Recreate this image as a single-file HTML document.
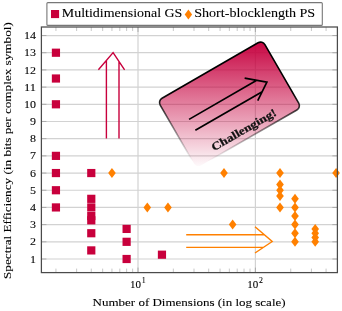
<!DOCTYPE html>
<html><head><meta charset="utf-8"><title>Spectral Efficiency chart</title>
<style>html,body{margin:0;padding:0;background:#fff;}svg{display:block;}</style>
</head><body>
<svg width="342" height="311" viewBox="0 0 342 311">
<defs>
<linearGradient id="pinkg" gradientUnits="userSpaceOnUse" x1="0" y1="38.6" x2="0" y2="169">
<stop offset="0" stop-color="rgb(198,0,62)" stop-opacity="1"/>
<stop offset="1" stop-color="rgb(198,0,62)" stop-opacity="0"/>
</linearGradient>
<linearGradient id="borderg" gradientUnits="userSpaceOnUse" x1="0" y1="92" x2="0" y2="161">
<stop offset="0" stop-color="#000" stop-opacity="1"/>
<stop offset="1" stop-color="#000" stop-opacity="0"/>
</linearGradient>
</defs>
<rect width="342" height="311" fill="#fff"/>
<line x1="41.4" y1="259.00" x2="337.4" y2="259.00" stroke="#d2d2d2" stroke-width="1.2"/>
<line x1="41.4" y1="241.81" x2="337.4" y2="241.81" stroke="#d2d2d2" stroke-width="1.2"/>
<line x1="41.4" y1="224.62" x2="337.4" y2="224.62" stroke="#d2d2d2" stroke-width="1.2"/>
<line x1="41.4" y1="207.43" x2="337.4" y2="207.43" stroke="#d2d2d2" stroke-width="1.2"/>
<line x1="41.4" y1="190.24" x2="337.4" y2="190.24" stroke="#d2d2d2" stroke-width="1.2"/>
<line x1="41.4" y1="173.05" x2="337.4" y2="173.05" stroke="#d2d2d2" stroke-width="1.2"/>
<line x1="41.4" y1="155.86" x2="337.4" y2="155.86" stroke="#d2d2d2" stroke-width="1.2"/>
<line x1="41.4" y1="138.67" x2="337.4" y2="138.67" stroke="#d2d2d2" stroke-width="1.2"/>
<line x1="41.4" y1="121.48" x2="337.4" y2="121.48" stroke="#d2d2d2" stroke-width="1.2"/>
<line x1="41.4" y1="104.29" x2="337.4" y2="104.29" stroke="#d2d2d2" stroke-width="1.2"/>
<line x1="41.4" y1="87.10" x2="337.4" y2="87.10" stroke="#d2d2d2" stroke-width="1.2"/>
<line x1="41.4" y1="69.91" x2="337.4" y2="69.91" stroke="#d2d2d2" stroke-width="1.2"/>
<line x1="41.4" y1="52.72" x2="337.4" y2="52.72" stroke="#d2d2d2" stroke-width="1.2"/>
<line x1="41.4" y1="35.53" x2="337.4" y2="35.53" stroke="#d2d2d2" stroke-width="1.2"/>
<line x1="138.00" y1="27.0" x2="138.00" y2="272.6" stroke="#d2d2d2" stroke-width="1.2"/>
<line x1="255.40" y1="27.0" x2="255.40" y2="272.6" stroke="#d2d2d2" stroke-width="1.2"/>
<line x1="55.94" y1="272.6" x2="55.94" y2="268.60" stroke="#b0b0b0" stroke-width="0.7"/>
<line x1="55.94" y1="27.0" x2="55.94" y2="31.00" stroke="#b0b0b0" stroke-width="0.7"/>
<line x1="76.61" y1="272.6" x2="76.61" y2="268.60" stroke="#b0b0b0" stroke-width="0.7"/>
<line x1="76.61" y1="27.0" x2="76.61" y2="31.00" stroke="#b0b0b0" stroke-width="0.7"/>
<line x1="91.28" y1="272.6" x2="91.28" y2="268.60" stroke="#b0b0b0" stroke-width="0.7"/>
<line x1="91.28" y1="27.0" x2="91.28" y2="31.00" stroke="#b0b0b0" stroke-width="0.7"/>
<line x1="102.66" y1="272.6" x2="102.66" y2="268.60" stroke="#b0b0b0" stroke-width="0.7"/>
<line x1="102.66" y1="27.0" x2="102.66" y2="31.00" stroke="#b0b0b0" stroke-width="0.7"/>
<line x1="111.95" y1="272.6" x2="111.95" y2="268.60" stroke="#b0b0b0" stroke-width="0.7"/>
<line x1="111.95" y1="27.0" x2="111.95" y2="31.00" stroke="#b0b0b0" stroke-width="0.7"/>
<line x1="119.81" y1="272.6" x2="119.81" y2="268.60" stroke="#b0b0b0" stroke-width="0.7"/>
<line x1="119.81" y1="27.0" x2="119.81" y2="31.00" stroke="#b0b0b0" stroke-width="0.7"/>
<line x1="126.62" y1="272.6" x2="126.62" y2="268.60" stroke="#b0b0b0" stroke-width="0.7"/>
<line x1="126.62" y1="27.0" x2="126.62" y2="31.00" stroke="#b0b0b0" stroke-width="0.7"/>
<line x1="132.63" y1="272.6" x2="132.63" y2="268.60" stroke="#b0b0b0" stroke-width="0.7"/>
<line x1="132.63" y1="27.0" x2="132.63" y2="31.00" stroke="#b0b0b0" stroke-width="0.7"/>
<line x1="173.34" y1="272.6" x2="173.34" y2="268.60" stroke="#b0b0b0" stroke-width="0.7"/>
<line x1="173.34" y1="27.0" x2="173.34" y2="31.00" stroke="#b0b0b0" stroke-width="0.7"/>
<line x1="194.01" y1="272.6" x2="194.01" y2="268.60" stroke="#b0b0b0" stroke-width="0.7"/>
<line x1="194.01" y1="27.0" x2="194.01" y2="31.00" stroke="#b0b0b0" stroke-width="0.7"/>
<line x1="208.68" y1="272.6" x2="208.68" y2="268.60" stroke="#b0b0b0" stroke-width="0.7"/>
<line x1="208.68" y1="27.0" x2="208.68" y2="31.00" stroke="#b0b0b0" stroke-width="0.7"/>
<line x1="220.06" y1="272.6" x2="220.06" y2="268.60" stroke="#b0b0b0" stroke-width="0.7"/>
<line x1="220.06" y1="27.0" x2="220.06" y2="31.00" stroke="#b0b0b0" stroke-width="0.7"/>
<line x1="229.35" y1="272.6" x2="229.35" y2="268.60" stroke="#b0b0b0" stroke-width="0.7"/>
<line x1="229.35" y1="27.0" x2="229.35" y2="31.00" stroke="#b0b0b0" stroke-width="0.7"/>
<line x1="237.21" y1="272.6" x2="237.21" y2="268.60" stroke="#b0b0b0" stroke-width="0.7"/>
<line x1="237.21" y1="27.0" x2="237.21" y2="31.00" stroke="#b0b0b0" stroke-width="0.7"/>
<line x1="244.02" y1="272.6" x2="244.02" y2="268.60" stroke="#b0b0b0" stroke-width="0.7"/>
<line x1="244.02" y1="27.0" x2="244.02" y2="31.00" stroke="#b0b0b0" stroke-width="0.7"/>
<line x1="250.03" y1="272.6" x2="250.03" y2="268.60" stroke="#b0b0b0" stroke-width="0.7"/>
<line x1="250.03" y1="27.0" x2="250.03" y2="31.00" stroke="#b0b0b0" stroke-width="0.7"/>
<line x1="290.74" y1="272.6" x2="290.74" y2="268.60" stroke="#b0b0b0" stroke-width="0.7"/>
<line x1="290.74" y1="27.0" x2="290.74" y2="31.00" stroke="#b0b0b0" stroke-width="0.7"/>
<line x1="311.41" y1="272.6" x2="311.41" y2="268.60" stroke="#b0b0b0" stroke-width="0.7"/>
<line x1="311.41" y1="27.0" x2="311.41" y2="31.00" stroke="#b0b0b0" stroke-width="0.7"/>
<line x1="326.08" y1="272.6" x2="326.08" y2="268.60" stroke="#b0b0b0" stroke-width="0.7"/>
<line x1="326.08" y1="27.0" x2="326.08" y2="31.00" stroke="#b0b0b0" stroke-width="0.7"/>
<line x1="41.4" y1="259.00" x2="46.4" y2="259.00" stroke="#a0a0a0" stroke-width="0.8"/>
<line x1="332.4" y1="259.00" x2="337.4" y2="259.00" stroke="#a0a0a0" stroke-width="0.8"/>
<line x1="41.4" y1="241.81" x2="46.4" y2="241.81" stroke="#a0a0a0" stroke-width="0.8"/>
<line x1="332.4" y1="241.81" x2="337.4" y2="241.81" stroke="#a0a0a0" stroke-width="0.8"/>
<line x1="41.4" y1="224.62" x2="46.4" y2="224.62" stroke="#a0a0a0" stroke-width="0.8"/>
<line x1="332.4" y1="224.62" x2="337.4" y2="224.62" stroke="#a0a0a0" stroke-width="0.8"/>
<line x1="41.4" y1="207.43" x2="46.4" y2="207.43" stroke="#a0a0a0" stroke-width="0.8"/>
<line x1="332.4" y1="207.43" x2="337.4" y2="207.43" stroke="#a0a0a0" stroke-width="0.8"/>
<line x1="41.4" y1="190.24" x2="46.4" y2="190.24" stroke="#a0a0a0" stroke-width="0.8"/>
<line x1="332.4" y1="190.24" x2="337.4" y2="190.24" stroke="#a0a0a0" stroke-width="0.8"/>
<line x1="41.4" y1="173.05" x2="46.4" y2="173.05" stroke="#a0a0a0" stroke-width="0.8"/>
<line x1="332.4" y1="173.05" x2="337.4" y2="173.05" stroke="#a0a0a0" stroke-width="0.8"/>
<line x1="41.4" y1="155.86" x2="46.4" y2="155.86" stroke="#a0a0a0" stroke-width="0.8"/>
<line x1="332.4" y1="155.86" x2="337.4" y2="155.86" stroke="#a0a0a0" stroke-width="0.8"/>
<line x1="41.4" y1="138.67" x2="46.4" y2="138.67" stroke="#a0a0a0" stroke-width="0.8"/>
<line x1="332.4" y1="138.67" x2="337.4" y2="138.67" stroke="#a0a0a0" stroke-width="0.8"/>
<line x1="41.4" y1="121.48" x2="46.4" y2="121.48" stroke="#a0a0a0" stroke-width="0.8"/>
<line x1="332.4" y1="121.48" x2="337.4" y2="121.48" stroke="#a0a0a0" stroke-width="0.8"/>
<line x1="41.4" y1="104.29" x2="46.4" y2="104.29" stroke="#a0a0a0" stroke-width="0.8"/>
<line x1="332.4" y1="104.29" x2="337.4" y2="104.29" stroke="#a0a0a0" stroke-width="0.8"/>
<line x1="41.4" y1="87.10" x2="46.4" y2="87.10" stroke="#a0a0a0" stroke-width="0.8"/>
<line x1="332.4" y1="87.10" x2="337.4" y2="87.10" stroke="#a0a0a0" stroke-width="0.8"/>
<line x1="41.4" y1="69.91" x2="46.4" y2="69.91" stroke="#a0a0a0" stroke-width="0.8"/>
<line x1="332.4" y1="69.91" x2="337.4" y2="69.91" stroke="#a0a0a0" stroke-width="0.8"/>
<line x1="41.4" y1="52.72" x2="46.4" y2="52.72" stroke="#a0a0a0" stroke-width="0.8"/>
<line x1="332.4" y1="52.72" x2="337.4" y2="52.72" stroke="#a0a0a0" stroke-width="0.8"/>
<line x1="41.4" y1="35.53" x2="46.4" y2="35.53" stroke="#a0a0a0" stroke-width="0.8"/>
<line x1="332.4" y1="35.53" x2="337.4" y2="35.53" stroke="#a0a0a0" stroke-width="0.8"/>
<line x1="138.00" y1="272.6" x2="138.00" y2="267.6" stroke="#a0a0a0" stroke-width="0.8"/>
<line x1="138.00" y1="27.0" x2="138.00" y2="32.0" stroke="#a0a0a0" stroke-width="0.8"/>
<line x1="255.40" y1="272.6" x2="255.40" y2="267.6" stroke="#a0a0a0" stroke-width="0.8"/>
<line x1="255.40" y1="27.0" x2="255.40" y2="32.0" stroke="#a0a0a0" stroke-width="0.8"/>
<path d="M-14.7,17.2 L0,0 L11.5,17.2 M-6.7,7.84 L-6.7,86 M5.9,8.82 L5.9,86" transform="translate(113.1,52.6)" fill="none" stroke="#c8003c" stroke-width="1.4" stroke-linejoin="miter"/>
<path d="M-14.7,17.2 L0,0 L11.5,17.2 M-6.7,7.84 L-6.7,86 M5.9,8.82 L5.9,86" transform="translate(272.2,241.5) rotate(90)" fill="none" stroke="#ff8000" stroke-width="1.4"/>
<rect x="51.84" y="48.62" width="8.2" height="8.2" fill="#c8003c"/>
<rect x="51.84" y="74.41" width="8.2" height="8.2" fill="#c8003c"/>
<rect x="51.84" y="100.19" width="8.2" height="8.2" fill="#c8003c"/>
<rect x="51.84" y="151.76" width="8.2" height="8.2" fill="#c8003c"/>
<rect x="51.84" y="168.95" width="8.2" height="8.2" fill="#c8003c"/>
<rect x="51.84" y="186.14" width="8.2" height="8.2" fill="#c8003c"/>
<rect x="51.84" y="203.33" width="8.2" height="8.2" fill="#c8003c"/>
<rect x="87.18" y="168.95" width="8.2" height="8.2" fill="#c8003c"/>
<rect x="87.18" y="194.73" width="8.2" height="8.2" fill="#c8003c"/>
<rect x="87.18" y="203.33" width="8.2" height="8.2" fill="#c8003c"/>
<rect x="87.18" y="211.93" width="8.2" height="8.2" fill="#c8003c"/>
<rect x="87.18" y="216.22" width="8.2" height="8.2" fill="#c8003c"/>
<rect x="87.18" y="229.12" width="8.2" height="8.2" fill="#c8003c"/>
<rect x="87.18" y="246.31" width="8.2" height="8.2" fill="#c8003c"/>
<rect x="122.52" y="224.82" width="8.2" height="8.2" fill="#c8003c"/>
<rect x="122.52" y="237.71" width="8.2" height="8.2" fill="#c8003c"/>
<rect x="122.52" y="254.90" width="8.2" height="8.2" fill="#c8003c"/>
<rect x="157.86" y="250.60" width="8.2" height="8.2" fill="#c8003c"/>
<path d="M111.96,168.05 L115.76,173.05 L111.96,178.05 L108.16,173.05Z" fill="#ff8000"/>
<path d="M147.30,202.43 L151.10,207.43 L147.30,212.43 L143.50,207.43Z" fill="#ff8000"/>
<path d="M167.97,202.43 L171.77,207.43 L167.97,212.43 L164.17,207.43Z" fill="#ff8000"/>
<path d="M224.00,168.05 L227.80,173.05 L224.00,178.05 L220.20,173.05Z" fill="#ff8000"/>
<path d="M232.65,219.62 L236.45,224.62 L232.65,229.62 L228.85,224.62Z" fill="#ff8000"/>
<path d="M280.00,168.05 L283.80,173.05 L280.00,178.05 L276.20,173.05Z" fill="#ff8000"/>
<path d="M280.00,179.51 L283.80,184.51 L280.00,189.51 L276.20,184.51Z" fill="#ff8000"/>
<path d="M280.00,185.24 L283.80,190.24 L280.00,195.24 L276.20,190.24Z" fill="#ff8000"/>
<path d="M280.00,190.97 L283.80,195.97 L280.00,200.97 L276.20,195.97Z" fill="#ff8000"/>
<path d="M280.00,202.43 L283.80,207.43 L280.00,212.43 L276.20,207.43Z" fill="#ff8000"/>
<path d="M295.00,193.83 L298.80,198.83 L295.00,203.83 L291.20,198.83Z" fill="#ff8000"/>
<path d="M295.00,202.43 L298.80,207.43 L295.00,212.43 L291.20,207.43Z" fill="#ff8000"/>
<path d="M295.00,211.03 L298.80,216.03 L295.00,221.03 L291.20,216.03Z" fill="#ff8000"/>
<path d="M295.00,219.62 L298.80,224.62 L295.00,229.62 L291.20,224.62Z" fill="#ff8000"/>
<path d="M295.00,228.22 L298.80,233.22 L295.00,238.22 L291.20,233.22Z" fill="#ff8000"/>
<path d="M295.00,236.81 L298.80,241.81 L295.00,246.81 L291.20,241.81Z" fill="#ff8000"/>
<path d="M315.20,223.92 L319.00,228.92 L315.20,233.92 L311.40,228.92Z" fill="#ff8000"/>
<path d="M315.20,228.22 L319.00,233.22 L315.20,238.22 L311.40,233.22Z" fill="#ff8000"/>
<path d="M315.20,232.51 L319.00,237.51 L315.20,242.51 L311.40,237.51Z" fill="#ff8000"/>
<path d="M315.20,236.81 L319.00,241.81 L315.20,246.81 L311.40,241.81Z" fill="#ff8000"/>
<path d="M336.10,168.05 L339.90,173.05 L336.10,178.05 L332.30,173.05Z" fill="#ff8000"/>
<path d="M162.03,98.22 L258.07,42.77 A5,5 0 0 1 264.90,44.60 L298.70,103.15 A5,5 0 0 1 296.87,109.98 L200.83,165.43 A5,5 0 0 1 194.00,163.60 L160.20,105.05 A5,5 0 0 1 162.03,98.22 Z" fill="url(#pinkg)" stroke="url(#borderg)" stroke-width="1.6"/>
<g transform="translate(229.4,103.25) rotate(-30)">
<path d="M-14.7,17.2 L0,0 L11.5,17.2 M-6.7,7.84 L-6.7,86 M5.9,8.82 L5.9,86" transform="translate(43,0.5) rotate(90)" fill="none" stroke="#000" stroke-width="1.7"/>
<text x="-37.3" y="33.9" font-family="Liberation Serif, serif" font-weight="bold" font-size="11.2" fill="#111" stroke="#111" stroke-width="0.25" textLength="73" lengthAdjust="spacingAndGlyphs">Challenging!</text>
</g>
<rect x="41.4" y="27.0" width="296.00" height="245.60" fill="none" stroke="#4a4a4a" stroke-width="1.25"/>
<rect x="46.9" y="2.6" width="275.4" height="22.8" rx="1" fill="#fff" stroke="#777" stroke-width="1.1"/>
<rect x="51" y="10" width="8.1" height="8.1" fill="#c8003c"/>
<path d="M188.40,9.60 L192.10,14.50 L188.40,19.40 L184.70,14.50Z" fill="#ff8000"/>
<text x="61.8" y="17.1" font-size="12.6" font-family="Liberation Serif, serif" fill="#000" stroke="#000" stroke-width="0.08" textLength="120.6" lengthAdjust="spacingAndGlyphs">Multidimensional GS</text>
<text x="194.2" y="17.1" font-size="12.6" font-family="Liberation Serif, serif" fill="#000" stroke="#000" stroke-width="0.08" textLength="121.0" lengthAdjust="spacingAndGlyphs">Short-blocklength PS</text>
<text x="30.10" y="262.60" font-size="10.8" font-family="Liberation Serif, serif" fill="#000" stroke="#000" stroke-width="0.08" textLength="6.0" lengthAdjust="spacingAndGlyphs">1</text>
<text x="30.10" y="245.41" font-size="10.8" font-family="Liberation Serif, serif" fill="#000" stroke="#000" stroke-width="0.08" textLength="6.0" lengthAdjust="spacingAndGlyphs">2</text>
<text x="30.10" y="228.22" font-size="10.8" font-family="Liberation Serif, serif" fill="#000" stroke="#000" stroke-width="0.08" textLength="6.0" lengthAdjust="spacingAndGlyphs">3</text>
<text x="30.10" y="211.03" font-size="10.8" font-family="Liberation Serif, serif" fill="#000" stroke="#000" stroke-width="0.08" textLength="6.0" lengthAdjust="spacingAndGlyphs">4</text>
<text x="30.10" y="193.84" font-size="10.8" font-family="Liberation Serif, serif" fill="#000" stroke="#000" stroke-width="0.08" textLength="6.0" lengthAdjust="spacingAndGlyphs">5</text>
<text x="30.10" y="176.65" font-size="10.8" font-family="Liberation Serif, serif" fill="#000" stroke="#000" stroke-width="0.08" textLength="6.0" lengthAdjust="spacingAndGlyphs">6</text>
<text x="30.10" y="159.46" font-size="10.8" font-family="Liberation Serif, serif" fill="#000" stroke="#000" stroke-width="0.08" textLength="6.0" lengthAdjust="spacingAndGlyphs">7</text>
<text x="30.10" y="142.27" font-size="10.8" font-family="Liberation Serif, serif" fill="#000" stroke="#000" stroke-width="0.08" textLength="6.0" lengthAdjust="spacingAndGlyphs">8</text>
<text x="30.10" y="125.08" font-size="10.8" font-family="Liberation Serif, serif" fill="#000" stroke="#000" stroke-width="0.08" textLength="6.0" lengthAdjust="spacingAndGlyphs">9</text>
<text x="24.10" y="107.89" font-size="10.8" font-family="Liberation Serif, serif" fill="#000" stroke="#000" stroke-width="0.08" textLength="12.0" lengthAdjust="spacingAndGlyphs">10</text>
<text x="24.10" y="90.70" font-size="10.8" font-family="Liberation Serif, serif" fill="#000" stroke="#000" stroke-width="0.08" textLength="12.0" lengthAdjust="spacingAndGlyphs">11</text>
<text x="24.10" y="73.51" font-size="10.8" font-family="Liberation Serif, serif" fill="#000" stroke="#000" stroke-width="0.08" textLength="12.0" lengthAdjust="spacingAndGlyphs">12</text>
<text x="24.10" y="56.32" font-size="10.8" font-family="Liberation Serif, serif" fill="#000" stroke="#000" stroke-width="0.08" textLength="12.0" lengthAdjust="spacingAndGlyphs">13</text>
<text x="24.10" y="39.13" font-size="10.8" font-family="Liberation Serif, serif" fill="#000" stroke="#000" stroke-width="0.08" textLength="12.0" lengthAdjust="spacingAndGlyphs">14</text>
<text x="130.0" y="288.0" font-size="11" font-family="Liberation Serif, serif" fill="#000" stroke="#000" stroke-width="0.08">10<tspan font-size="7.8" dx="0.8" dy="-4.9">1</tspan></text>
<text x="247.2" y="288.0" font-size="11" font-family="Liberation Serif, serif" fill="#000" stroke="#000" stroke-width="0.08">10<tspan font-size="7.8" dx="0.8" dy="-4.9">2</tspan></text>
<text x="92.6" y="305.8" font-size="10.4" font-family="Liberation Serif, serif" fill="#000" stroke="#000" stroke-width="0.08" textLength="193.0" lengthAdjust="spacingAndGlyphs">Number of Dimensions (in log scale)</text>
<text transform="translate(10.9,279) rotate(-90)" x="0" y="0" font-size="10.4" font-family="Liberation Serif, serif" fill="#000" stroke="#000" stroke-width="0.08" textLength="256.8" lengthAdjust="spacingAndGlyphs">Spectral Efficiency (in bits per complex symbol)</text>
</svg>
</body></html>
